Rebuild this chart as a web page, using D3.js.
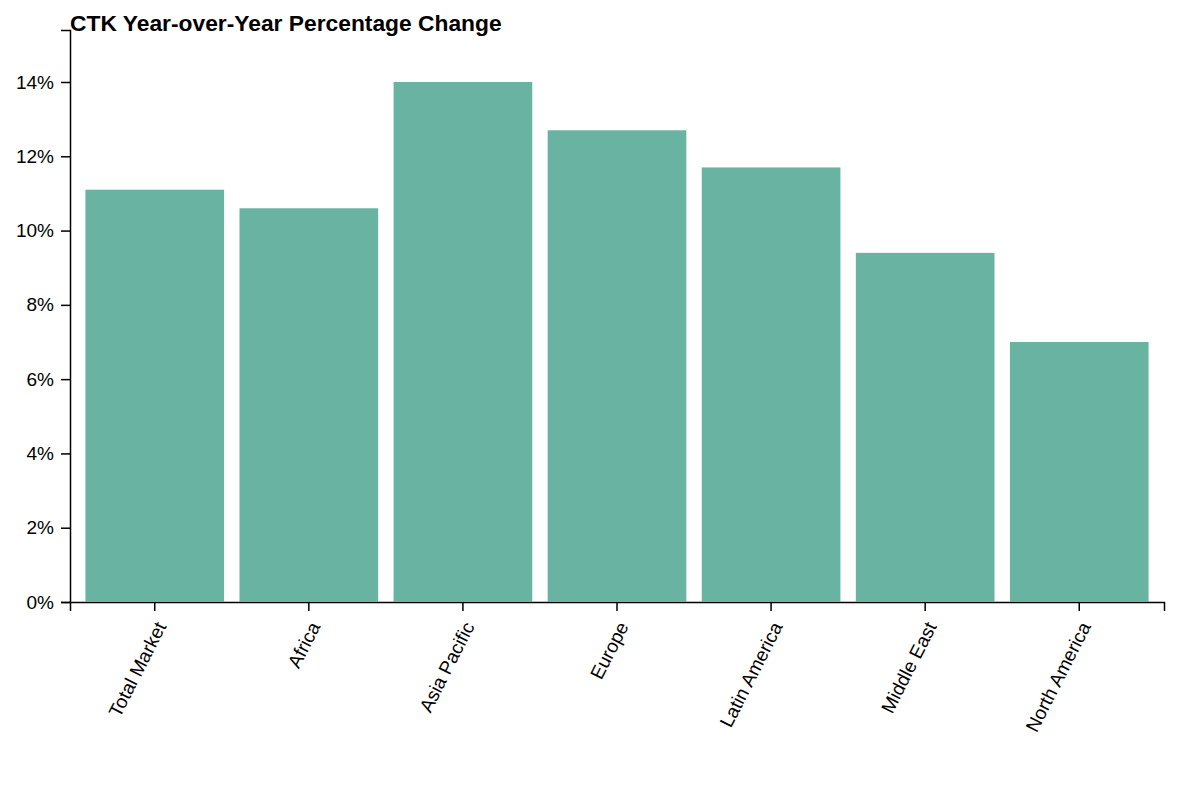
<!DOCTYPE html>
<html>
<head>
<meta charset="utf-8">
<script src="https://cdn.jsdelivr.net/npm/d3@7"></script>
<style>
  body { margin: 0; background: #fff; }
  svg text { font-family: "Liberation Sans", Arial, Helvetica, sans-serif; }
</style>
</head>
<body>
<div id="chart"></div>
<script>
// regions and their CTK yoy change (percent)
let regions = ["Total Market", "Africa", "Asia Pacific", "Europe", "Latin America", "Middle East", "North America"]
let yoyChange = [11.1, 10.6, 14.0, 12.7, 11.7, 9.4, 7.0]
let chartTitle = "CTK Year-over-Year Percentage Change"

let margin = { top: 30, right: 36, bottom: 190, left: 70 }
let W = 1200, H = 792
let width = W - margin.left - margin.right
let height = H - margin.top - margin.bottom

let data = regions.map((r, i) => ({ region: r, value: yoyChange[i] }))

let svg = d3.select("#chart").append("svg")
    .attr("width", W)
    .attr("height", H)
let g = svg.append("g").attr("transform", `translate(${margin.left},${margin.top})`)

let x = d3.scaleBand()
    .domain(regions)
    .range([0, width])
    .padding(0.1)

let y = d3.scaleLinear()
    .domain([0, d3.max(yoyChange) * 1.1])
    .range([height, 0])

// x axis
let xAxis = g.append("g")
    .attr("transform", `translate(0,${height})`)
    .call(d3.axisBottom(x).tickSize(9).tickPadding(4.5))
xAxis.selectAll("text")
    .attr("font-size", 19)
    .attr("fill", "#000")
    .style("text-anchor", "end")
    .attr("transform", "translate(-12,12)rotate(-63)")

// y axis
let yAxis = g.append("g")
    .call(d3.axisLeft(y).ticks(10).tickSize(9).tickPadding(7).tickFormat(d => d + "%"))
yAxis.selectAll("text").attr("font-size", 19).attr("fill", "#000")

svg.selectAll(".domain, .tick line").attr("stroke", "#000").attr("stroke-width", 1.5)

// bars
g.selectAll("rect.bar")
    .data(data)
    .enter()
    .append("rect")
    .attr("class", "bar")
    .attr("x", d => x(d.region))
    .attr("y", d => y(d.value))
    .attr("width", x.bandwidth())
    .attr("height", d => height - y(d.value))
    .attr("fill", "#69b3a2")

// title
svg.append("text")
    .attr("x", margin.left)
    .attr("y", 31)
    .attr("font-size", 22.8)
    .attr("font-weight", "bold")
    .attr("fill", "#000")
    .text(chartTitle)
</script>
</body>
</html>
